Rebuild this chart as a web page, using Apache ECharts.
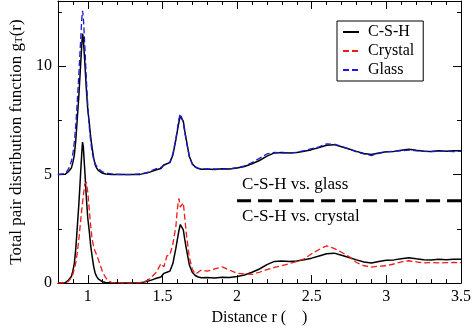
<!DOCTYPE html>
<html>
<head>
<meta charset="utf-8">
<script src="https://cdn.jsdelivr.net/npm/echarts@6/dist/echarts.min.js"></script>
<style>
html,body{margin:0;padding:0;background:#fff;}
#chart{width:474px;height:331px;}
</style>
</head>
<body>
<div id="chart"></div>
<script>
// ---- data ----
const r = [0.80,0.85,0.87,0.89,0.90,0.91,0.92,0.93,0.94,0.95,0.96,0.965,0.97,0.98,0.99,1.00,1.01,1.02,1.03,1.04,1.05,1.06,1.07,1.08,1.10,1.12,1.14,1.16,1.20,1.25,1.30,1.35,1.40,1.43,1.46,1.49,1.51,1.53,1.55,1.57,1.59,1.60,1.61,1.62,1.63,1.64,1.65,1.66,1.68,1.70,1.72,1.74,1.76,1.80,1.85,1.90,1.95,2.00,2.05,2.10,2.15,2.20,2.25,2.30,2.35,2.40,2.45,2.50,2.55,2.60,2.65,2.70,2.75,2.80,2.85,2.90,2.95,3.00,3.05,3.10,3.15,3.20,3.25,3.30,3.35,3.40,3.45,3.50];

const cshValues = [0,0.02,0.13,0.3,0.55,0.9,1.6,2.6,3.6,4.8,6.0,6.5,6.3,5.2,4.0,3.0,2.4,1.7,1.2,0.75,0.45,0.3,0.2,0.13,0.06,0.03,0.02,0.01,0,0,0,0.01,0.08,0.15,0.22,0.28,0.45,0.5,0.55,0.9,1.6,2.0,2.4,2.7,2.72,2.45,2.0,1.6,0.85,0.5,0.35,0.28,0.25,0.26,0.24,0.27,0.26,0.3,0.37,0.5,0.65,0.85,1.0,1.02,1.0,1.02,1.08,1.15,1.25,1.35,1.38,1.28,1.18,1.07,0.97,0.93,1.0,1.05,1.07,1.12,1.17,1.12,1.08,1.07,1.1,1.08,1.1,1.1];

const crystalValues = [0,0.02,0.08,0.25,0.4,0.65,0.95,1.4,2.0,2.7,3.4,3.7,4.0,4.55,4.65,4.2,3.4,2.6,2.0,1.65,1.45,1.3,1.1,0.9,0.5,0.25,0.1,0.03,0.02,0,0,0.02,0.12,0.3,0.5,0.9,0.75,1.25,1.3,1.8,2.6,3.4,3.9,3.5,3.6,3.7,3.0,2.3,1.2,0.65,0.42,0.5,0.6,0.55,0.65,0.75,0.6,0.45,0.42,0.4,0.5,0.62,0.72,0.8,0.9,1.0,1.12,1.35,1.55,1.72,1.6,1.42,1.22,0.95,0.8,0.74,0.78,0.8,0.88,0.98,1.03,0.98,0.93,0.95,0.93,0.94,0.95,0.94];

const glassValues = [0,0.05,0.25,0.6,0.95,1.5,2.3,3.4,4.6,5.9,7.2,7.55,7.3,6.0,4.5,3.2,2.2,1.5,1.0,0.7,0.5,0.38,0.28,0.2,0.12,0.08,0.05,0.03,0.01,0,0,0.03,0.1,0.2,0.28,0.33,0.42,0.48,0.58,0.95,1.65,2.1,2.55,2.8,2.75,2.4,1.95,1.55,0.85,0.48,0.35,0.3,0.26,0.25,0.26,0.25,0.27,0.32,0.4,0.55,0.75,0.95,1.02,1.0,1.0,1.03,1.1,1.2,1.28,1.42,1.4,1.3,1.17,1.05,0.95,0.88,0.98,1.05,1.08,1.1,1.13,1.1,1.08,1.06,1.08,1.07,1.06,1.07];

const upperOffset = 5;            // curves compared with glass are shifted up by 5
const dividerR = [2.0, 3.5];      // dashed separator extent (r)
const dividerG = 3.8;             // separator level

const xMajorTicks = [1, 1.5, 2, 2.5, 3, 3.5];
const xMinorTicks = [0.9,1.1,1.2,1.3,1.4,1.6,1.7,1.8,1.9,2.1,2.2,2.3,2.4,2.6,2.7,2.8,2.9,3.1,3.2,3.3,3.4];
const yMajorTicks = [0, 5, 10];
const yMinorTicks = [2.5, 7.5, 12.5];
const labelGlass = 'C-S-H vs. glass';
const labelCrystal = 'C-S-H vs. crystal';

// ---- chart ----
const FONT = "'Liberation Serif','Times New Roman',serif";
const chart = echarts.init(document.getElementById('chart'), null, {renderer: 'canvas'});

const pairs = (vals, off) => r.map((x, i) => [x, vals[i] + (off || 0)]);

function xAx(pos, ticks, len, showLine, showLabel, extra) {
  return Object.assign({
    type: 'value', position: pos, min: 0.8, max: 3.5,
    axisLine: {show: showLine, onZero: false, lineStyle: {color: '#000', width: 1}},
    axisTick: {show: true, inside: true, length: len, customValues: ticks, lineStyle: {color: '#000', width: 1}},
    axisLabel: {show: showLabel, customValues: ticks, color: '#000', fontFamily: FONT, fontSize: 16, margin: 6},
    splitLine: {show: false}
  }, extra || {});
}
function yAx(pos, ticks, len, showLine, showLabel, extra) {
  return Object.assign({
    type: 'value', position: pos, min: 0, max: 13,
    axisLine: {show: showLine, onZero: false, lineStyle: {color: '#000', width: 1}},
    axisTick: {show: true, inside: true, length: len, customValues: ticks, lineStyle: {color: '#000', width: 1}},
    axisLabel: {show: showLabel, customValues: ticks, color: '#000', fontFamily: FONT, fontSize: 16, margin: 6},
    splitLine: {show: false}
  }, extra || {});
}

const option = {
  animation: false,
  backgroundColor: '#fff',
  grid: {left: 47, right: 10, top: 1, bottom: 40, containLabel: false},
  xAxis: [
    xAx('bottom', xMajorTicks, 8, true, true, {
      name: 'Distance r (    )', nameLocation: 'middle', nameGap: 23,
      nameTextStyle: {color: '#000', fontFamily: FONT, fontSize: 16}
    }),
    xAx('bottom', xMinorTicks, 4, false, false),
    xAx('top', xMajorTicks, 8, true, false),
    xAx('top', xMinorTicks, 4, false, false)
  ],
  yAxis: [
    yAx('left', yMajorTicks, 8, true, true, {
      name: 'Total pair distribution function g{s|T}(r)', nameLocation: 'middle', nameGap: 28,
      nameTextStyle: {color: '#000', fontFamily: FONT, fontSize: 17,
        rich: {s: {fontFamily: FONT, fontSize: 11, color: '#000', verticalAlign: 'bottom', padding: [6, 0, 0, 0]}}}
    }),
    yAx('left', yMinorTicks, 4, false, false),
    yAx('right', yMajorTicks, 8, true, false),
    yAx('right', yMinorTicks, 4, false, false)
  ],
  legend: {
    data: ['C-S-H', 'Crystal', 'Glass'],
    orient: 'vertical', left: 337, top: 21,
    itemWidth: 16, itemHeight: 15, itemGap: 3,
    padding: [3, 9, 3, 5],
    borderColor: '#000', borderWidth: 1, borderRadius: 0,
    itemStyle: {opacity: 0},
    textStyle: {color: '#000', fontFamily: FONT, fontSize: 16, padding: [0, 0, 0, 4]}
  },
  series: [
    {name: 'C-S-H', type: 'line', data: pairs(cshValues), symbol: 'none', z: 2,
      lineStyle: {color: '#000', width: 1.5}, itemStyle: {color: '#000'}},
    {name: 'Crystal', type: 'line', data: pairs(crystalValues), symbol: 'none', z: 3,
      lineStyle: {color: '#f01818', width: 1.3, type: [6, 3]}, itemStyle: {color: '#f01818'}},
    {name: 'C-S-H', type: 'line', data: pairs(cshValues, upperOffset), symbol: 'none', z: 2,
      lineStyle: {color: '#000', width: 1.5}, itemStyle: {color: '#000'}},
    {name: 'Glass', type: 'line', data: pairs(glassValues, upperOffset), symbol: 'none', z: 3,
      lineStyle: {color: '#1a1ad8', width: 1.3, type: [6, 3]}, itemStyle: {color: '#1a1ad8'}},
    {name: 'divider', type: 'line', data: dividerR.map(x => [x, dividerG]), symbol: 'none', z: 4,
      silent: true, legendHoverLink: false,
      lineStyle: {color: '#000', width: 3, type: [14, 7]}}
  ]
};
chart.setOption(option);

// annotation texts anchored on the divider in data coordinates
const pAbove = chart.convertToPixel({xAxisIndex: 0, yAxisIndex: 0}, [dividerR[0], dividerG]);
chart.setOption({
  graphic: [
    {type: 'text', left: pAbove[0] + 5, top: pAbove[1] - 25,
      style: {text: labelGlass, fill: '#000', font: '17px ' + FONT}},
    {type: 'text', left: pAbove[0] + 5, top: pAbove[1] + 7,
      style: {text: labelCrystal, fill: '#000', font: '17px ' + FONT}}
  ]
});
</script>
</body>
</html>
